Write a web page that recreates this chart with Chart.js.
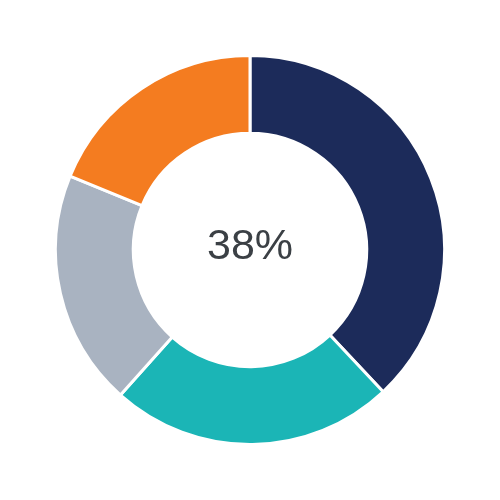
<!DOCTYPE html>
<html>
<head>
<meta charset="utf-8">
<script src="https://cdn.jsdelivr.net/npm/chart.js@4"></script>
<style>
html,body{margin:0;padding:0;background:#fff;}
#wrap{width:500px;height:500px;}
</style>
</head>
<body>
<div id="wrap"><canvas id="donut"></canvas></div>
<script>
const labels=["Navy","Teal","Gray","Orange"];
const values=[38,23.6,19.6,18.8];
const colors=["#1c2b5a","#1bb5b6","#a9b3c1","#f47c20"];
const centerText="38%";

/* center label */
const centerLabel={
id:"centerLabel",
afterDraw(chart){
const a=chart.getDatasetMeta(0).data[0];
const ctx=chart.ctx;
ctx.save();
ctx.font="43px 'Liberation Sans', Arial, sans-serif";
ctx.fillStyle="#3b4045";
ctx.textAlign="center";
ctx.textBaseline="middle";
ctx.fillText(centerText,a.x,a.y-3);
ctx.restore();
}
};

new Chart(document.getElementById("donut"),{
type:"doughnut",
data:{
labels:labels,
datasets:[{
data:values,
backgroundColor:colors,
borderColor:"#ffffff",
borderWidth:3
}]
},
options:{
responsive:true,
maintainAspectRatio:false,
animation:false,
cutout:"60%",
layout:{padding:54},
plugins:{legend:{display:false},tooltip:{enabled:false}}
},
plugins:[centerLabel]
});
</script>
</body>
</html>
